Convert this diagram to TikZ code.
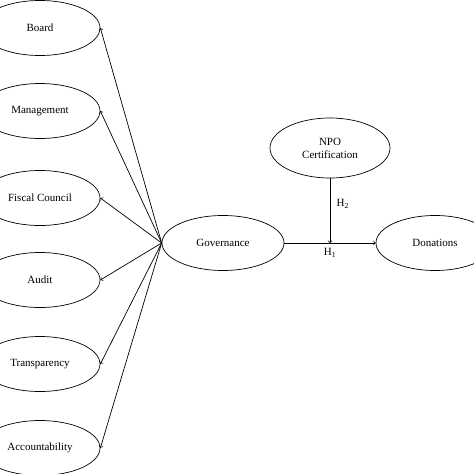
\documentclass[tikz,border=0pt]{standalone}
\usepackage{fontspec}
\setmainfont{Liberation Serif}
\usepackage{tikz}
\usetikzlibrary{arrows, positioning, shapes.geometric}
\tikzset{>=to}

\begin{document}
\begin{tikzpicture}[>=to, line width=0.7pt, x=1pt, y=-1pt,
    construct/.style={ellipse, draw, minimum width=120pt, minimum height=55pt,
        inner sep=0pt, align=center, font=\fontsize{11}{13}\selectfont}]
    \useasboundingbox (0,0) rectangle (474,474);
    \clip (0,0) rectangle (474,474);

    \node[construct, minimum width=122pt] (gov) at (223,243) {Governance};
    \node[construct, minimum width=118pt] (don) at (435,243) {Donations};
    \node[construct, minimum height=60pt] (npo) at (330,148) {NPO\\Certification};

    \foreach \name/\txt/\y in {board/Board/28, mgmt/Management/111,
        fiscal/Fiscal Council/198, audit/Audit/280,
        transp/Transparency/364, account/Accountability/448}
    {\node[construct] (\name) at (40,\y) {\txt};
    \draw[->] (gov.west) -- (\name.east); }

    \draw[->] (gov) -- (don) node[midway, below=2pt, font=\fontsize{11}{13}\selectfont] {H\textsubscript{1}};

    \coordinate (meet) at (npo.south |- gov.east);
    \draw[->] (npo) -- (meet) node[pos=0.4, right=3pt, font=\fontsize{11}{13}\selectfont] {H\textsubscript{2}};

\end{tikzpicture}
\end{document}
